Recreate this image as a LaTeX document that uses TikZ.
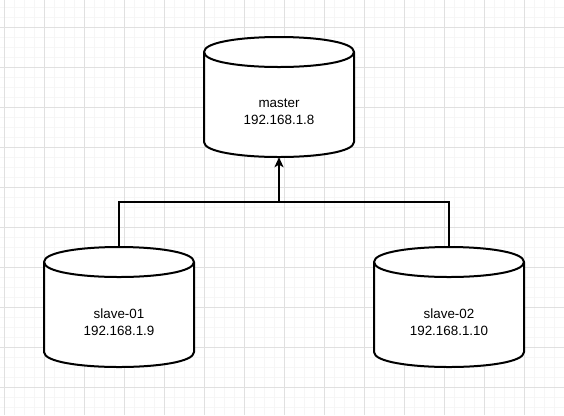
\documentclass[tikz,border=0pt]{standalone}
\usepackage{fontspec}
\setmainfont{Liberation Sans}
\usetikzlibrary{arrows.meta,calc}
\definecolor{gridmajor}{RGB}{224,224,224}
\definecolor{gridminor}{RGB}{246,246,246}
\tikzset{
  cylline/.style={draw=black,line width=2bp,fill=white,line join=round},
  conn/.style={draw=black,line width=2bp},
  dbbox/.style={draw=none,minimum width=150bp,minimum height=120bp,inner sep=0pt},
  dbtext/.style={align=center,font=\fontsize{13.4bp}{16.8bp}\selectfont,inner sep=0pt}
}
\newcommand\cylshape[2]{%
  \filldraw[cylline] (#1,#2+15) .. controls (#1,#2-5) and (#1+150,#2-5) .. (#1+150,#2+15)
     -- (#1+150,#2+105) .. controls (#1+150,#2+125) and (#1,#2+125) .. (#1,#2+105) -- cycle;
  \draw[cylline,fill=none] (#1,#2+15) .. controls (#1,#2+35) and (#1+150,#2+35) .. (#1+150,#2+15);
}
\begin{document}
\begin{tikzpicture}[x=1bp,y=-1bp]
\useasboundingbox (0,0) rectangle (564,415);
\fill[white] (0,0) rectangle (564,415);
% grid
\foreach \gx in {4,14,...,564} \draw[gridminor,line width=1bp] (\gx,0) -- (\gx,415);
\foreach \gy in {7,17,...,415} \draw[gridminor,line width=1bp] (0,\gy) -- (564,\gy);
\foreach \gx in {4,44,...,564} \draw[gridmajor,line width=1bp] (\gx,0) -- (\gx,415);
\foreach \gy in {27,67,...,415} \draw[gridmajor,line width=1bp] (0,\gy) -- (564,\gy);
% cylinders
\cylshape{204}{37}
\cylshape{44}{247}
\cylshape{374}{247}
\node[dbbox] (m) at (279,97) {};
\node[dbbox] (s1) at (119,307) {};
\node[dbbox] (s2) at (449,307) {};
\node[dbtext] (mt) at ($(m.center)+(0,15)$) {master\\192.168.1.8};
\node[dbtext] (s1t) at ($(s1.center)+(0,15)$) {slave-01\\192.168.1.9};
\node[dbtext] (s2t) at ($(s2.center)+(0,15)$) {slave-02\\192.168.1.10};
% connectors
\coordinate (j) at (279,202);
\draw[conn] (s1.north) |- (j);
\draw[conn] (s2.north) |- (j);
\draw[conn,-{Stealth[length=10bp,width=9bp,inset=2.5bp]}] (j) -- (m.south);
\end{tikzpicture}
\end{document}
